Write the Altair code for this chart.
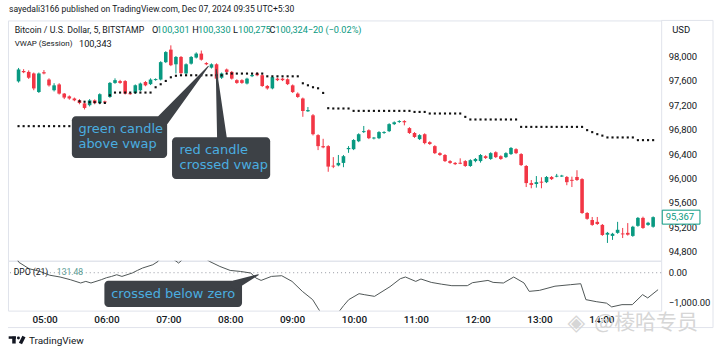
import altair as alt
import pandas as pd

# ---------------- data ----------------
start = "2024-12-07 04:30"

opens = [97590, 97760, 97745, 97720, 97415, 97740, 97620, 97445, 97540, 97390,
         97345, 97310, 97280, 97230, 97200, 97280, 97235, 97262, 97335, 97565,
         97595, 97595, 97395, 97400, 97445, 97580, 97545, 97612, 97620, 97905,
         98110, 97870, 97990, 97720, 97880, 97980, 98045, 97890, 97815, 97870,
         97650, 97785, 97745, 97610, 97610, 97555, 97675, 97720, 97690, 97515,
         97475, 97635, 97635, 97625, 97525, 97390, 97310, 97100, 97035, 96710,
         96530, 96530, 96210, 96215, 96255, 96480, 96480, 96610, 96760, 96790,
         96655, 96660, 96745, 96775, 96890, 96925, 96940, 96825, 96745, 96645,
         96725, 96595, 96530, 96415, 96385, 96285, 96255, 96258, 96285, 96205,
         96285, 96285, 96365, 96320, 96430, 96365, 96350, 96400, 96480, 96400,
         96205, 95925, 95910, 95948, 95940, 96025, 96030, 96032, 96025, 95978,
         96025, 95990, 95435, 95320, 95290, 95240, 95080, 95060, 95110, 95100,
         95110, 95060, 95225, 95355, 95240, 95210]
highs = [97810, 97790, 97770, 97735, 97735, 97775, 97640, 97560, 97560, 97400,
         97360, 97325, 97300, 97245, 97300, 97295, 97395, 97275, 97580, 97640,
         97615, 97610, 97410, 97540, 97570, 97595, 97640, 97640, 97920, 98085,
         98180, 98005, 98005, 97885, 98005, 98065, 98095, 97905, 97885, 97885,
         97735, 97800, 97760, 97625, 97625, 97650, 97715, 97735, 97705, 97530,
         97675, 97650, 97650, 97640, 97540, 97410, 97325, 97170, 97055, 96725,
         96650, 96545, 96350, 96385, 96385, 96530, 96645, 96740, 96860, 96805,
         96680, 96775, 96775, 96905, 96935, 96955, 96955, 96840, 96760, 96725,
         96740, 96610, 96545, 96430, 96400, 96300, 96270, 96330, 96300, 96315,
         96335, 96400, 96380, 96430, 96445, 96380, 96430, 96515, 96495, 96415,
         96220, 95975, 96040, 96020, 96040, 96040, 96075, 96060, 96040, 96030,
         96135, 96005, 95450, 95370, 95370, 95255, 95125, 95110, 95290, 95190,
         95270, 95225, 95370, 95375, 95290, 95380]
lows = [97570, 97725, 97630, 97445, 97400, 97705, 97505, 97425, 97375, 97300,
        97290, 97265, 97215, 97130, 97180, 97215, 97215, 97230, 97320, 97550,
        97550, 97375, 97370, 97385, 97430, 97510, 97530, 97600, 97605, 97890,
        97840, 97720, 97710, 97700, 97865, 97965, 97930, 97855, 97800, 97615,
        97630, 97730, 97620, 97550, 97550, 97540, 97660, 97675, 97500, 97455,
        97460, 97595, 97595, 97530, 97400, 97320, 97010, 97090, 96705, 96465,
        96495, 96110, 96170, 96200, 96185, 96420, 96465, 96595, 96745, 96645,
        96640, 96645, 96730, 96760, 96875, 96910, 96870, 96730, 96665, 96630,
        96560, 96550, 96400, 96370, 96270, 96240, 96220, 96235, 96190, 96190,
        96265, 96260, 96320, 96305, 96335, 96305, 96335, 96385, 96400, 96205,
        95860, 95840, 95850, 95840, 95925, 95975, 96020, 96025, 95890, 95860,
        95960, 95420, 95325, 95225, 95240, 95060, 94945, 94995, 95095, 95025,
        95065, 95045, 95210, 95175, 95225, 95195]
closes = [97785, 97740, 97650, 97475, 97720, 97720, 97525, 97525, 97390, 97325,
          97310, 97280, 97235, 97155, 97280, 97235, 97380, 97245, 97565, 97610,
          97565, 97390, 97380, 97525, 97555, 97525, 97620, 97628, 97905, 98070,
          97855, 97990, 97725, 97870, 97990, 98045, 97945, 97870, 97870, 97635,
          97720, 97745, 97635, 97565, 97565, 97635, 97695, 97690, 97515, 97475,
          97660, 97610, 97610, 97545, 97415, 97335, 97105, 97120, 96725, 96530,
          96510, 96195, 96195, 96255, 96365, 96500, 96630, 96725, 96775, 96660,
          96670, 96760, 96760, 96890, 96920, 96940, 96920, 96745, 96680, 96710,
          96580, 96565, 96415, 96385, 96285, 96255, 96235, 96242, 96205, 96300,
          96320, 96385, 96335, 96415, 96350, 96320, 96415, 96500, 96415, 96220,
          95925, 95895, 95940, 95932, 96025, 95990, 96045, 96048, 95940, 95962,
          95975, 95435, 95340, 95240, 95255, 95075, 95110, 95095, 95160, 95085,
          95080, 95210, 95355, 95190, 95275, 95367]
vwap = [96857, 96857, 96857, 96857, 96857, 96857, 96857, 96857, 96857, 96857,
        96857, 96857, 97265, 97257, 97249, 97249, 97241, 97237, 97363, 97407,
        97407, 97407, 97407, 97407, 97407, 97407, 97407, 97494, 97543, 97597,
        97657, 97682, 97690, 97690, 97690, 97690, 97690, 97690, 97690, 97690,
        97690, 97718, 97718, 97718, 97718, 97718, 97718, 97718, 97718, 97673,
        97673, 97673, 97673, 97673, 97673, 97673, 97559, 97526, 97494, 97477,
        97401, 97151, 97146, 97146, 97146, 97146, 97107, 97107, 97107, 97107,
        97107, 97107, 97107, 97107, 97107, 97107, 97107, 97107, 97090, 97090,
        97090, 97064, 97064, 97064, 97064, 97064, 97064, 97064, 97009, 96966,
        96966, 96966, 96966, 96966, 96966, 96966, 96966, 96966, 96966, 96845,
        96845, 96845, 96845, 96845, 96845, 96845, 96845, 96845, 96845, 96845,
        96845, 96845, 96792, 96759, 96726, 96702, 96672, 96672, 96672, 96672,
        96672, 96672, 96628, 96628, 96628, 96628]

dpo_bar = [0, 1, 3, 5, 7, 9, 11, 13, 14, 15, 17, 18, 19, 20, 21, 23, 24, 25, 27, 28,
           29, 31, 32, 33, 35, 37, 38, 40, 42, 44, 46, 47, 48, 50, 52, 54, 56, 58, 59, 60,
           62, 64, 65, 67, 68, 70, 73, 75, 76, 78, 79, 81, 83, 85, 88, 89, 92, 93, 95, 97,
           99, 100, 102, 105, 108, 110, 111, 113, 115, 116, 118, 120, 122, 123, 125]
dpo_val = [650, 350, 133, 50, -83, -143, -233, -343, -290, -343, -233, -167, -123, -67, -123, -10, 77, 157, 267, 377,
           600, 450, 323, 480, 650, 500, 377, 210, 77, 43, -10, -177, -257, -123, -100, -290, -623, -900, -1177, -1450,
           -1550, -1100, -900, -700, -733, -790, -467, -200, -143, -290, -210, -323, -383, -433, -433, -333, -257, -323, -343, -143,
           -343, -623, -590, -450, -400, -367, -900, -967, -1017, -1143, -1067, -1067, -733, -843, -567]

price_ticks = [94800, 95200, 95600, 96000, 96400, 96800, 97200, 97600, 98000]
dpo_ticks = [0, -1000]
hour_ticks = [5, 6, 7, 8, 9, 10, 11, 12, 13, 14]

# callouts (data coordinates)
box_t1 = ["2024-12-07T05:22:30", "2024-12-07T07:01:10"]
box_t2 = ["2024-12-07T06:56:20", "2024-12-07T08:37:50"]
box_p1 = [97020, 96677]
box_p2 = [96335, 95992]
note_t = ["2024-12-07T05:29:00", "2024-12-07T05:29:00", "2024-12-07T07:08:36", "2024-12-07T07:08:36"]
note_p = [96808, 96563, 96465, 96220]
note_s = ["green candle", "above vwap", "red candle", "crossed vwap"]
tail_id = [1, 1, 2, 2]
tail_t = ["2024-12-07T07:36:55", "2024-12-07T06:52:30", "2024-12-07T07:44:42", "2024-12-07T07:50:30"]
tail_p = [97837, 96963, 97788, 96628]
tail_w = [1, 12, 1, 10]
dbox_t = ["2024-12-07T05:58:00", "2024-12-07T08:11:30"]
dbox_v = [-267, -1143]
dnote = ("2024-12-07T07:04:44", -700, "crossed below zero")
dtail_t = ["2024-12-07T08:27:15", "2024-12-07T08:05:00"]
dtail_v = [-67, -400]
dtail_w = [1, 9]

# ---------------- styling ----------------
UP, DOWN = "#089981", "#f23645"
TXT = "#131722"
FONT = "Roboto"
BOX = "#3d4146"
ANN = "#4aaee0"
W, H1, H2 = 655, 241, 50

n = len(opens)
times = pd.date_range(start, periods=n, freq="5min")
candles = pd.DataFrame({"t": times, "open": opens, "high": highs, "low": lows,
                        "close": closes, "vwap": vwap})
candles["dir"] = ["up" if c >= o else "down" for o, c in zip(opens, closes)]
dpo = pd.DataFrame({"t": [times[i] for i in dpo_bar], "v": dpo_val})
one = pd.DataFrame({"a": [0]})


def dt(h, m=0, s=0):
    return alt.DateTime(year=2024, month=12, date=7, hours=h, minutes=m, seconds=s)


XS = alt.Scale(domain=[dt(4, 24, 30), dt(14, 58)])
YP = alt.Scale(domain=[94653, 98588], nice=False, zero=False)
YD = alt.Scale(domain=[-1267, 400], nice=False, zero=False)
col = alt.Color("dir:N", scale=alt.Scale(domain=["up", "down"], range=[UP, DOWN]), legend=None)

price_axis = alt.Axis(orient="right", values=price_ticks, format=",.0f", ticks=False, domain=False,
                      grid=False, labelPadding=7, labelFontSize=9.5, labelColor=TXT, labelFont=FONT,
                      title=None, labelOverlap=False)
x_axis = alt.Axis(values=[dt(h) for h in hour_ticks], format="%H:%M", labelFontSize=10, ticks=False,
                  domain=False, grid=False, labelPadding=4, title=None, labelColor=TXT,
                  labelFont=FONT, labelFlush=False, labelFontWeight=500)
dpo_axis = alt.Axis(orient="right", values=dpo_ticks, format=",.2f", ticks=False, domain=False,
                    grid=False, labelPadding=7, labelFontSize=9.5, labelColor=TXT, labelFont=FONT,
                    title=None, labelOverlap=False)


def xp(f):
    return alt.X(f"{f}:T", scale=XS, axis=None, title=None)


def yp(f):
    return alt.Y(f"{f}:Q", scale=YP, axis=price_axis, title=None)


def xd(f):
    return alt.X(f"{f}:T", scale=XS, axis=x_axis, title=None)


def yd(f):
    return alt.Y(f"{f}:Q", scale=YD, axis=dpo_axis, title=None)


def label(txt, x, y, size=9, color=TXT, font=FONT, weight="normal", align="left", baseline="middle"):
    return alt.Chart(one).mark_text(text=txt, fontSize=size, color=color, font=font,
                                    fontWeight=weight, align=align, baseline=baseline).encode(
        x=alt.value(x), y=alt.value(y))


wicks = alt.Chart(candles).mark_rule(strokeWidth=1).encode(
    x=xp("t"), y=yp("low"), y2="high:Q", color=col)
bodies = alt.Chart(candles).mark_bar(size=3.6).encode(
    x=xp("t"), y=yp("open"), y2="close:Q", color=col)
vw = alt.Chart(candles).mark_square(size=4.5, color="#111111", opacity=1).encode(
    x=xp("t"), y=yp("vwap"))

boxes = alt.Chart(pd.DataFrame({"t1": box_t1, "t2": box_t2, "p1": box_p1, "p2": box_p2})).mark_rect(
    cornerRadius=4, color=BOX, opacity=1).encode(
    x=xp("t1"), x2="t2:T", y=yp("p1"), y2="p2:Q")
tails = alt.Chart(pd.DataFrame({"id": tail_id, "t": tail_t, "p": tail_p, "w": tail_w,
                                "k": [0, 1, 0, 1]})).mark_trail(color=BOX, opacity=1).encode(
    x=xp("t"), y=yp("p"), size=alt.Size("w:Q", scale=None, legend=None),
    detail="id:N", order="k:Q")
notes = alt.Chart(pd.DataFrame({"t": note_t, "p": note_p, "s": note_s})).mark_text(
    align="left", baseline="middle", font="DejaVu Sans", fontSize=13, color=ANN).encode(
    x=xp("t"), y=yp("p"), text="s:N")

tag_df = pd.DataFrame({"p": [closes[-1]]})
tag_box = alt.Chart(tag_df).mark_point(shape="M-2.7,-1H2.7V1H-2.7Z", size=196, filled=True,
                                       fill="white", stroke=UP, strokeWidth=1, opacity=1).encode(
    x=alt.value(675), y=yp("p"))
tag_txt = alt.Chart(tag_df).mark_text(align="left", baseline="middle", fontSize=9.5, font=FONT,
                                      color=UP).encode(
    x=alt.value(659.5), y=yp("p"), text=alt.Text("p:Q", format=",.0f"))

HS = 9.2
header = [
    label("sayedali3166 published on TradingView.com, Dec 07, 2024 09:35 UTC+5:30", 1, -11, size=8.6),
    label("Bitcoin / U.S. Dollar, 5, BITSTAMP", 6.7, 9.3, size=8.8),
    label("O", 144.5, 9.3, size=HS), label("100,301", 149.3, 9.3, size=HS, color=UP),
    label("H", 184.7, 9.3, size=HS), label("100,330", 190.5, 9.3, size=HS, color=UP),
    label("L", 225.7, 9.3, size=HS), label("100,275", 230.7, 9.3, size=HS, color=UP),
    label("C", 262.3, 9.3, size=HS), label("100,324", 268, 9.3, size=HS, color=UP),
    label("\u221220 (\u22120.02%)", 300.5, 9.3, size=HS, color=UP),
    label("VWAP (Session)", 6.7, 23.3, size=8), label("100,343", 71.3, 23.3, size=HS),
    label("USD", 666, 10, size=9.5),
]
frame_r = alt.Chart(one).mark_rule(color="#e0e3eb").encode(
    x=alt.value(707), y=alt.value(0), y2=alt.value(308))
frame_t = alt.Chart(one).mark_rule(color="#e0e3eb").encode(
    x=alt.value(655), x2=alt.value(707), y=alt.value(0))

price = alt.layer(wicks, bodies, vw, boxes, tails, notes, tag_box, tag_txt, frame_r, frame_t,
                  *header).properties(width=W, height=H1)

# ---------------- DPO pane ----------------
zero = alt.Chart(one).mark_rule(color="#9598a1", strokeDash=[1, 3], strokeWidth=1).encode(
    y=alt.Y(datum=0, scale=YD, axis=dpo_axis, title=None))
dline = alt.Chart(dpo).mark_line(color="#4f5656", strokeWidth=1, clip=True).encode(
    x=xd("t"), y=yd("v"))
dbox = alt.Chart(pd.DataFrame({"t1": [dbox_t[0]], "t2": [dbox_t[1]], "v1": [dbox_v[0]],
                               "v2": [dbox_v[1]]})).mark_rect(cornerRadius=4, color=BOX, opacity=1).encode(
    x=xd("t1"), x2="t2:T", y=yd("v1"), y2="v2:Q")
dtail = alt.Chart(pd.DataFrame({"t": dtail_t, "v": dtail_v, "w": dtail_w, "k": [0, 1]})).mark_trail(
    color=BOX, opacity=1).encode(
    x=xd("t"), y=yd("v"), size=alt.Size("w:Q", scale=None, legend=None), order="k:Q")
dtext = alt.Chart(pd.DataFrame({"t": [dnote[0]], "v": [dnote[1]], "s": [dnote[2]]})).mark_text(
    align="center", baseline="middle", font="DejaVu Sans", fontSize=13, color=ANN).encode(
    x=xd("t"), y=yd("v"), text="s:N")

dlabels = [
    label("DPO (21)", 5.7, 11.7, size=8.6),
    label("131.48", 49, 11.7, size=8.6, color="#5b9c94"),
    label("TradingView", 21, 80, size=10),
    label("@棱哈专员", 588, 62, size=21, color="#d6d6d6", font="Noto Sans CJK SC"),
    label("◈", 570, 62, size=23, color="#d6d6d6", font="DejaVu Sans", align="center"),
]
frame_b = alt.Chart(one).mark_rule(color="#e0e3eb").encode(
    x=alt.value(0), x2=alt.value(707), y=alt.value(67))
logo_a = alt.Chart(one).mark_rule(color=TXT, strokeWidth=2.5).encode(
    x=alt.value(0.7), x2=alt.value(8), y=alt.value(77))
logo_b = alt.Chart(one).mark_rule(color=TXT, strokeWidth=3.5).encode(
    x=alt.value(6), y=alt.value(76), y2=alt.value(83))
logo_c = alt.Chart(one).mark_point(color=TXT, filled=True, size=9, opacity=1).encode(
    x=alt.value(10.5), y=alt.value(77.5))
logo_d = alt.Chart(one).mark_rule(color=TXT, strokeWidth=3.5).encode(
    x=alt.value(16), x2=alt.value(12.5), y=alt.value(76), y2=alt.value(83))

dpo_chart = alt.layer(zero, dline, dbox, dtail, dtext, frame_b, logo_a, logo_b, logo_c, logo_d,
                      *dlabels).properties(width=W, height=H2)

chart = alt.vconcat(price, dpo_chart, spacing=0, bounds="flush").properties(
    padding={"left": 6, "top": 4, "right": 6, "bottom": 4}
).configure(font=FONT).configure_view(stroke="#e0e3eb", strokeWidth=1).configure_axis(
    labelOverlap=False)

chart.save("out.html", embed_options={"renderer": "svg", "actions": False})
